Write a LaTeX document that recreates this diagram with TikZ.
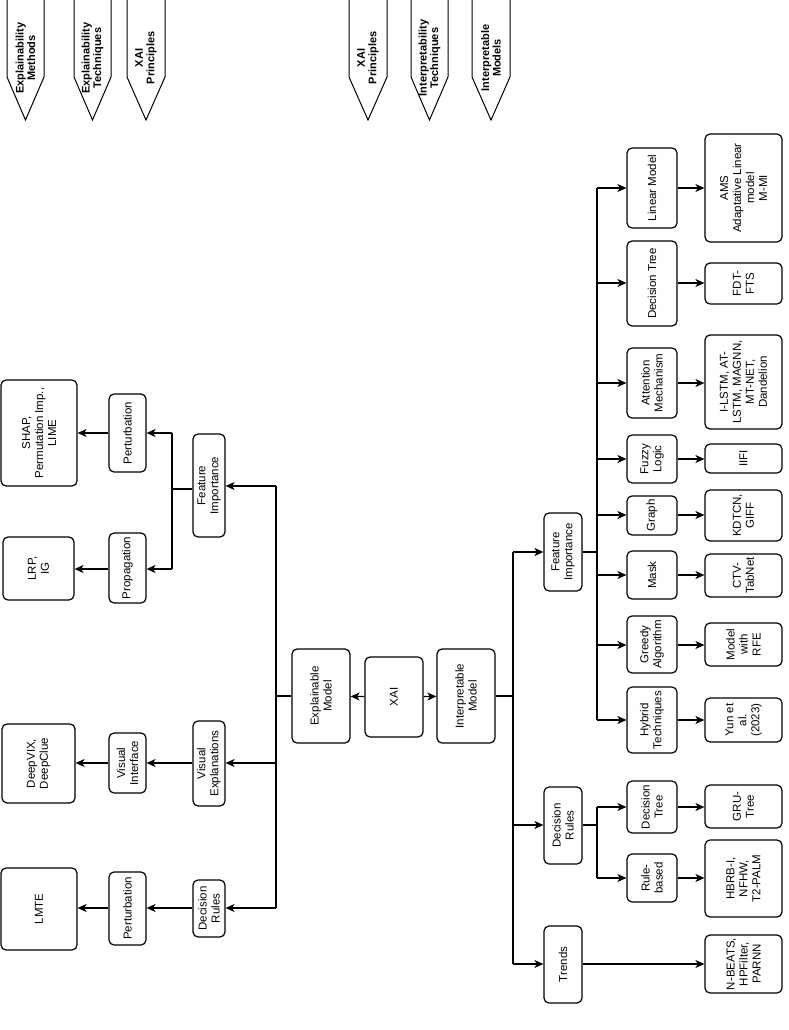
\documentclass[tikz,border=0pt]{standalone}
\usepackage{fontspec}
\setmainfont{Liberation Sans}
\usetikzlibrary{arrows.meta}
\tikzset{
  bx/.style={draw,line width=1.2pt,rounded corners=5pt,rotate=90,inner sep=1pt,align=center,font=\fontsize{11.5}{13}\selectfont},
  arr/.style={line width=1.2pt,-{Stealth[length=9pt,width=8pt,inset=2.5pt]}},
  ln/.style={line width=1.2pt},
  hd/.style={draw,line width=1pt},
  hdt/.style={rotate=90,align=center,font=\fontsize{11}{11.5}\selectfont\bfseries}
}
\newcommand\bx[6]{\node[bx,minimum width={(#5-#3)*1pt},minimum height={(#4-#2)*1pt}] (#1) at ({(#2+#4)/2},{(#3+#5)/2}) {#6};}
\newcommand\hdr[4]{\draw[hd] (#2,-2) -- (#2,77) -- ({(#2+#3)/2},120) -- (#3,77) -- (#3,-2);
  \node[hdt] (#1) at ({(#2+#3)/2},58) {#4};}
\begin{document}
\begin{tikzpicture}[x=1pt,y=-1pt]
\useasboundingbox (0,0) rectangle (789,1030);
% headers
\hdr{h1}{7}{44}{Explainability\\Methods}
\hdr{h2}{74}{111}{Explainability\\Techniques}
\hdr{h3}{127}{165}{XAI\\Principles}
\hdr{h4}{349}{387}{XAI\\Principles}
\hdr{h5}{411}{448}{Interpretability\\Techniques}
\hdr{h6}{472}{510}{Interpretable\\Models}
% center
\bx{em}{292}{649}{350}{743}{Explainable\\Model}
\bx{xai}{365}{657}{423}{737}{XAI}
\bx{im}{437}{649}{495}{743}{Interpretable\\Model}
\draw[arr] (xai) -- (em);
\draw[arr] (xai) -- (im);
% right level 1
\bx{rfi}{544}{513}{582}{591}{Feature\\Importance}
\bx{rdr}{544}{787}{582}{864}{Decision\\Rules}
\bx{rtr}{544}{926}{582}{1003}{Trends}
\coordinate (rb0) at (513,696);
\coordinate (rb1) at (513,552);
\coordinate (rb2) at (513,825);
\coordinate (rb3) at (513,964);
\draw[ln] (im.south |- rb0) -- (rb0);
\draw[ln] (rb1) -- (rb3);
\draw[arr] (rb1) -- (rb1 -| rfi.north);
\draw[arr] (rb2) -- (rb2 -| rdr.north);
\draw[arr] (rb3) -- (rb3 -| rtr.north);
% right level 2 (feature importance)
\bx{lm}{627}{148}{677}{228}{Linear Model}
\bx{dt}{627}{241}{677}{326}{Decision Tree}
\bx{am}{627}{348}{677}{418}{Attention\\Mechanism}
\bx{fl}{627}{435}{677}{483}{Fuzzy\\Logic}
\bx{gr}{627}{496}{677}{535}{Graph}
\bx{mk}{627}{551}{677}{599}{Mask}
\bx{ga}{627}{616}{677}{673}{Greedy\\Algorithm}
\bx{ht}{627}{687}{677}{753}{Hybrid\\Techniques}
\bx{ams}{705}{134}{782}{242}{AMS\\Adaptative Linear\\model\\M-MI}
\bx{fdt}{705}{263}{782}{304}{FDT-\\FTS}
\bx{ils}{705}{335}{782}{429}{I-LSTM, AT-\\LSTM,  MAGNN,\\MT-NET,\\Dandelion}
\bx{iifi}{705}{444}{782}{473}{IIFI}
\bx{kd}{705}{490}{782}{541}{KDTCN,\\GIFF}
\bx{ctv}{705}{554}{782}{597}{CTV-\\TabNet}
\bx{rfe}{705}{623}{782}{666}{Model\\with\\RFE}
\bx{yun}{705}{698}{782}{742}{Yun et\\al.\\(2023)}
\coordinate (fb) at (597,552);
\draw[ln] (rfi.south |- fb) -- (fb);
\draw[ln] (597,188) -- (597,720);
\foreach \n/\y in {lm/188,dt/283,am/383,fl/459,gr/515,mk/575,ga/645,ht/720}{
  \draw[arr] (597,\y) -- (\n.north |- 0,\y);}
\foreach \a/\b/\y in {lm/ams/188,dt/fdt/283,am/ils/383,fl/iifi/459,gr/kd/515,mk/ctv/575,ga/rfe/645,ht/yun/720}{
  \draw[arr] (\a.south |- 0,\y) -- (\b.north |- 0,\y);}
% decision rules
\bx{rdt}{627}{781}{677}{833}{Decision\\Tree}
\bx{rrb}{627}{854}{677}{902}{Rule-\\based}
\bx{gru}{705}{785}{782}{828}{GRU-\\Tree}
\bx{hbrb}{705}{840}{782}{917}{HBRB-I,\\NFHW,\\T2-PALM}
\bx{nb}{705}{935}{782}{993}{N-BEATS,\\HPFilter,\\PARNN}
\coordinate (db) at (597,825);
\draw[ln] (rdr.south |- db) -- (db);
\draw[ln] (597,807) -- (597,878);
\draw[arr] (597,807) -- (rdt.north |- 0,807);
\draw[arr] (597,878) -- (rrb.north |- 0,878);
\draw[arr] (rdt.south |- 0,807) -- (gru.north |- 0,807);
\draw[arr] (rrb.south |- 0,878) -- (hbrb.north |- 0,878);
\draw[arr] (rtr.south |- 0,964) -- (nb.north |- 0,964);
% left side
\bx{lfi}{193}{434}{225}{537}{Feature\\Importance}
\bx{lve}{193}{721}{225}{806}{Visual\\Explanations}
\bx{ldr}{193}{880}{225}{937}{Decision\\Rules}
\bx{pt1}{109}{394}{146}{472}{Perturbation}
\bx{prp}{109}{533}{146}{603}{Propagation}
\bx{vi}{109}{733}{146}{793}{Visual\\Interface}
\bx{pt2}{109}{872}{146}{945}{Perturbation}
\bx{shap}{1}{380}{77}{486}{SHAP,\\Permutation Imp.,\\LIME}
\bx{lrp}{3}{537}{74}{600}{LRP,\\IG}
\bx{dv}{2}{724}{75}{803}{DeepVIX,\\DeepClue}
\bx{lmte}{1}{868}{77}{950}{LMTE}
\coordinate (lb0) at (276,696);
\draw[ln] (em.north |- lb0) -- (lb0);
\draw[ln] (276,486) -- (276,908);
\draw[arr] (276,486) -- (lfi.south |- 0,486);
\draw[arr] (276,763) -- (lve.south |- 0,763);
\draw[arr] (276,908) -- (ldr.south |- 0,908);
\draw[ln] (lfi.north |- 0,489) -- (172,489);
\draw[ln] (172,433) -- (172,569);
\draw[arr] (172,433) -- (pt1.south |- 0,433);
\draw[arr] (172,569) -- (prp.south |- 0,569);
\draw[arr] (pt1.north |- 0,433) -- (shap.south |- 0,433);
\draw[arr] (prp.north |- 0,569) -- (lrp.south |- 0,569);
\draw[arr] (lve.north |- 0,763) -- (vi.south |- 0,763);
\draw[arr] (vi.north |- 0,763) -- (dv.south |- 0,763);
\draw[arr] (ldr.north |- 0,908) -- (pt2.south |- 0,908);
\draw[arr] (pt2.north |- 0,908) -- (lmte.south |- 0,908);
\end{tikzpicture}
\end{document}
